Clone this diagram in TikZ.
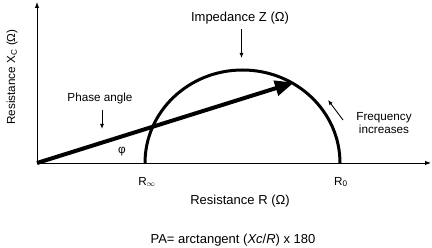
\documentclass[tikz,border=0pt]{standalone}
\usepackage{fontspec}
\setmainfont{Liberation Sans}
\usetikzlibrary{arrows.meta}
\begin{document}
\begin{tikzpicture}[x=1pt,y=-1pt,
  axis/.style={line width=0.9pt,-{Latex[length=6pt,width=4.5pt]}},
  pointer/.style={line width=0.9pt,-{Latex[length=5pt,width=4pt]}},
  lbl/.style={inner sep=0pt,font=\fontsize{11.7}{13}\selectfont},
  biglbl/.style={inner sep=0pt,font=\fontsize{13}{15}\selectfont}]
\useasboundingbox (0,0) rectangle (432,248);
\coordinate (O) at (37,163);
\coordinate (ytop) at (37,2);
\coordinate (xend) at (431,163);
\coordinate (Rinf) at (145,163);
\coordinate (Rzero) at (340,163);
\coordinate (tip) at (294,82.5);
% axes
\draw[axis] (O) -- (ytop);
\draw[axis] (O) -- (xend);
% arc
\draw[line width=3pt] (Rinf) arc[start angle=180,end angle=360,x radius=97.5,y radius=93];
% phase vector
\draw[line width=4pt,-{Triangle[length=19pt,width=15pt]}] (O) -- (tip);
% labels
\node[lbl,rotate=90] (ylab) at (12,77) {Resistance X\textsubscript{C} (\char"03A9)};
\node[biglbl] (imp) at (240,18) {Impedance Z (\char"03A9)};
\coordinate (impend) at (241.5,58);
\draw[pointer] (241.5,29) -- (impend);
\node[lbl] (pa) at (100,98) {Phase angle};
\coordinate (paend) at (102,129);
\draw[pointer] (102,110) -- (paend);
\node[lbl] (phi) at (122,152) {\char"03C6};
\node[lbl,align=center] (freq) at (384,123) {Frequency\\increases};
\coordinate (fa) at (343,120);
\coordinate (fb) at (328,100);
\draw[pointer] (fa) -- (fb);
\node[lbl] (rinfl) at (147,182) {R\textsubscript{$\infty$}};
\node[lbl] (r0l) at (341,182) {R\textsubscript{0}};
\node[biglbl] (xlab) at (240,201) {Resistance R (\char"03A9)};
\node[biglbl] (form) at (233,240) {PA= arctangent (\textit{Xc}/\textit{R}) x 180};
\end{tikzpicture}
\end{document}
